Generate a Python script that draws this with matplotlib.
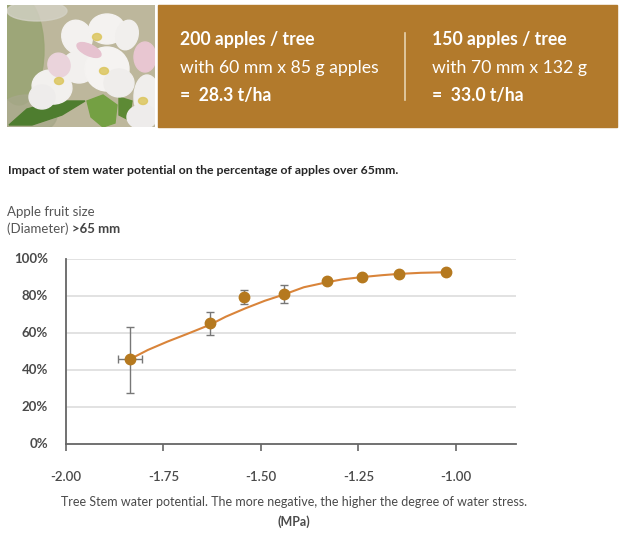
import matplotlib
matplotlib.use("Agg")
import matplotlib.pyplot as plt
from matplotlib.patches import Rectangle, Ellipse, Polygon

plt.rcParams['font.family'] = ['Lato', 'DejaVu Sans']

# measured points (stem water potential MPa, % apples > 65 mm)
swp = [-1.836, -1.631, -1.543, -1.442, -1.331, -1.240, -1.147, -1.026]
pct = [46.0, 65.4, 79.6, 81.2, 88.1, 90.3, 92.2, 93.0]
err_lo = [18.1, 6.5, 3.9, 5.0, 0, 0, 0, 0]
err_hi = [17.6, 6.0, 4.0, 4.8, 0, 0, 0, 0]
xerr_first = 0.031

# trend line
trend_x = [-1.836, -1.79, -1.74, -1.69, -1.631, -1.59, -1.54, -1.49, -1.442,
           -1.39, -1.331, -1.29, -1.24, -1.19, -1.147, -1.09, -1.026]
trend_y = [46.0, 51.0, 55.5, 59.6, 64.6, 69.0, 73.5, 77.6, 80.9,
           84.9, 87.6, 89.2, 90.4, 91.4, 92.1, 92.7, 93.0]

yticks = [0, 20, 40, 60, 80, 100]
ytick_labels = ['0%', '20%', '40%', '60%', '80%', '100%']
xticks = [-2.00, -1.75, -1.50, -1.25, -1.00]
xtick_labels = ['-2.00', '-1.75', '-1.50', '-1.25', '-1.00']

W, H = 624, 534
BROWN = '#B27A2C'
GOLD = '#B5791F'
ORANGE = '#D9843A'
GREY = '#4a4a4a'


def fx(x):
    return x / W


def fy(y):
    return 1 - y / H


fig = plt.figure(figsize=(6.24, 5.34), dpi=100)

# header photo (stylised apple blossom)
ph = fig.add_axes([fx(7), fy(127), fx(155) - fx(7), fy(5) - fy(127)])
ph.set_xlim(0, 148)
ph.set_ylim(122, 0)
ph.axis('off')
ph.add_patch(Rectangle((0, 0), 148, 122, color='#bdb79c'))
ph.add_patch(Ellipse((12, 45), 50, 110, color='#9aa574', alpha=0.9))
ph.add_patch(Ellipse((30, 6), 60, 20, color='#d4d2c6', alpha=0.8))
ph.add_patch(Ellipse((20, 110), 60, 40, color='#a7a88a', alpha=0.8))
# leaves
ph.add_patch(Polygon([[2, 120], [20, 104], [50, 96], [78, 96], [55, 110], [25, 120]],
                     color='#4e7d2f'))
ph.add_patch(Polygon([[80, 96], [96, 90], [110, 100], [108, 118], [96, 122], [84, 112]],
                     color='#74a043'))
ph.add_patch(Polygon([[112, 92], [125, 96], [122, 115], [112, 110]], color='#5d8a35'))
# petals
for cx, cy, w, h, ang, col in [
        (70, 32, 30, 34, -20, '#f3f1ef'), (100, 24, 36, 30, 0, '#f4f2f0'),
        (120, 30, 22, 30, 15, '#f1efed'), (138, 52, 22, 30, 0, '#e8c6d1'),
        (72, 62, 34, 32, 0, '#f2f0ee'), (100, 64, 44, 44, 0, '#f5f3f1'),
        (112, 78, 30, 28, 0, '#efedeb'), (82, 45, 26, 11, 25, '#e6c2cf'),
        (45, 82, 40, 34, 10, '#f2f0ee'), (52, 60, 22, 24, -20, '#ead3db'),
        (35, 92, 26, 24, 0, '#eeeceb'), (140, 92, 26, 44, 0, '#f0eeec'),
        (135, 112, 30, 24, 0, '#eeeceb')]:
    ph.add_patch(Ellipse((cx, cy), w, h, angle=ang, color=col))
for cx, cy in [(97, 66), (90, 32), (52, 76), (136, 96)]:
    ph.add_patch(Ellipse((cx, cy), 9, 7, color='#dcc65e', alpha=0.85))

# brown info box
fig.patches.append(Rectangle((fx(158), fy(127)), fx(617) - fx(158), fy(5) - fy(127),
                             transform=fig.transFigure, color=BROWN, zorder=0))
fig.lines.append(plt.Line2D([fx(405), fx(405)], [fy(33), fy(100)],
                            transform=fig.transFigure, color='#e8d3b0', lw=1.2))
col1 = ['200 apples / tree', 'with 60 mm x 85 g apples', '=  28.3 t/ha']
col2 = ['150 apples / tree', 'with 70 mm x 132 g', '=  33.0 t/ha']
weights = ['bold', 'normal', 'bold']
for x0, lines in [(180, col1), (432, col2)]:
    for yy, txt, wt in zip([40, 68, 96], lines, weights):
        fig.text(fx(x0), fy(yy), txt, color='white', fontsize=12.7, fontweight=wt,
                 va='center', ha='left')

# titles
fig.text(fx(8), fy(170), 'Impact of stem water potential on the percentage of apples over 65mm.',
         fontsize=8.85, fontweight='bold', color='#262626', va='center')
fig.text(fx(7), fy(212), 'Apple fruit size', fontsize=9.5, color='#555555', va='center')
t = fig.text(fx(7), fy(229), '(Diameter) ', fontsize=9.5, color='#555555', va='center')
fig.canvas.draw()
bb = t.get_window_extent()
fig.text(bb.x1 / W, fy(229), '>65 mm', fontsize=9.5, fontweight='bold', color='#444444',
         va='center')

# chart
ax = fig.add_axes([fx(66), fy(444.3), fx(516) - fx(66), fy(259.3) - fy(444.3)])
ax.set_xlim(-2.0, -0.846)
ax.set_ylim(0, 100)
ax.set_yticks(yticks[1:])
ax.set_yticklabels([])
ax.grid(axis='y', color='#dddddd', lw=1.2)
ax.set_axisbelow(True)
for s in ['top', 'right']:
    ax.spines[s].set_visible(False)
for s in ['left', 'bottom']:
    ax.spines[s].set_color('#666666')
    ax.spines[s].set_linewidth(1.3)
ax.tick_params(axis='y', length=0)
ax.set_xticks(xticks)
ax.set_xticklabels(xtick_labels)
ax.tick_params(axis='x', length=5, width=1.2, color='#666666', pad=14,
               labelsize=9.5, labelcolor=GREY)
for lab in ax.get_xticklabels():
    lab.set_fontweight('semibold')
for yv, lab in zip(yticks, ytick_labels):
    ax.text(-0.04, yv, lab, transform=ax.get_yaxis_transform(), ha='right', va='center',
            fontsize=9.5, color=GREY, fontweight='bold')

ax.plot(trend_x, trend_y, color=ORANGE, lw=1.5, zorder=2)
ax.errorbar(swp, pct, yerr=[err_lo, err_hi], fmt='none', ecolor='#777777', elinewidth=1,
            capsize=3, capthick=1, zorder=3)
ax.errorbar(swp[:1], pct[:1], xerr=xerr_first, fmt='none', ecolor='#777777', elinewidth=1,
            capsize=3, capthick=1, zorder=3)
ax.plot(swp, pct, 'o', color=GOLD, ms=7.5, zorder=4)

fig.text(fx(294), fy(502), 'Tree Stem water potential. The more negative, the higher the degree of water stress.',
         fontsize=9, color=GREY, ha='center', va='center')
fig.text(fx(294), fy(522), '(MPa)', fontsize=9, color=GREY, ha='center', va='center',
         fontweight='bold')

fig.savefig('out.png', dpi=100)
